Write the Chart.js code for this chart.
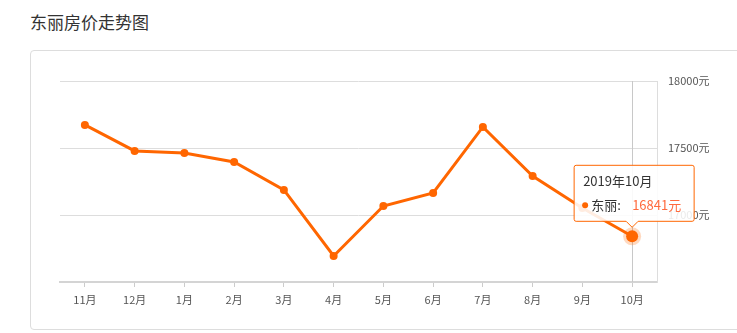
<!DOCTYPE html>
<html>
<head>
<meta charset="utf-8">
<script src="https://cdn.jsdelivr.net/npm/chart.js@4"></script>
<style>
  body { margin: 0; background: #fff; font-family: "Noto Sans CJK SC", sans-serif; }
  #wrap { position: relative; width: 737px; height: 333px; overflow: hidden; }
  #title { position: absolute; left: 30px; top: 9px; font-size: 17px; color: #333; }
  #card { position: absolute; left: 30px; top: 50px; width: 760px; height: 280px;
          border: 1px solid #ddd; border-radius: 4px; box-sizing: border-box; }
  canvas { position: absolute; left: 0; top: 0; }
</style>
</head>
<body>
<div id="wrap">
  <div id="title">东丽房价走势图</div>
  <div id="card"></div>
  <canvas id="price-chart" width="737" height="333"></canvas>
</div>
<script>
// months, Nov 2018 - Oct 2019
const months = ["11月","12月","1月","2月","3月","4月","5月","6月","7月","8月","9月","10月"];
const prices = [17672,17478,17463,17396,17187,16694,17067,17164,17657,17291,17052,16841];
const yTicks = [16500,17000,17500,18000];
const seriesName = "东丽";
const hoverLabel = "2019年10月";
const hoverIndex = 11;

const orange = "#ff6600";

// tooltip + crosshair for the highlighted month
const hoverTip = {
  id: 'hoverTip',
  afterDatasetsDraw(chart) {
    const ctx = chart.ctx;
    const pt = chart.getDatasetMeta(0).data[hoverIndex];
    const area = chart.chartArea;
    ctx.save();
    // halo + big dot
    ctx.fillStyle = 'rgba(255,102,0,0.25)';
    ctx.beginPath(); ctx.arc(pt.x, pt.y, 9, 0, Math.PI * 2); ctx.fill();
    ctx.fillStyle = orange;
    ctx.beginPath(); ctx.arc(pt.x, pt.y, 6, 0, Math.PI * 2); ctx.fill();

    // box
    const w = 120, h = 56;
    const bx = pt.x - 58, by = pt.y - 71;
    ctx.fillStyle = 'rgba(255,255,255,0.88)';
    ctx.strokeStyle = orange;
    ctx.lineWidth = 1;
    ctx.beginPath();
    ctx.moveTo(bx + 2, by);
    ctx.lineTo(bx + w - 2, by);
    ctx.quadraticCurveTo(bx + w, by, bx + w, by + 2);
    ctx.lineTo(bx + w, by + h - 2);
    ctx.quadraticCurveTo(bx + w, by + h, bx + w - 2, by + h);
    ctx.lineTo(pt.x + 6, by + h);
    ctx.lineTo(pt.x, by + h + 6);
    ctx.lineTo(pt.x - 6, by + h);
    ctx.lineTo(bx + 2, by + h);
    ctx.quadraticCurveTo(bx, by + h, bx, by + h - 2);
    ctx.lineTo(bx, by + 2);
    ctx.quadraticCurveTo(bx, by, bx + 2, by);
    ctx.closePath();
    ctx.fill();
    ctx.stroke();

    ctx.font = '13px "Noto Sans CJK SC", sans-serif';
    ctx.textBaseline = 'middle';
    ctx.textAlign = 'left';
    ctx.fillStyle = '#333';
    ctx.fillText(hoverLabel, bx + 9, by + 16);
    ctx.fillStyle = orange;
    ctx.beginPath(); ctx.arc(bx + 11, by + 40, 3, 0, Math.PI * 2); ctx.fill();
    ctx.fillStyle = '#333';
    ctx.fillText(seriesName + ':', bx + 17, by + 40);
    ctx.fillStyle = '#ff6a3d';
    ctx.fillText(prices[hoverIndex] + '元', bx + 58, by + 40);
    ctx.restore();
  },
  beforeDatasetsDraw(chart) {
    const ctx = chart.ctx;
    const pt = chart.getDatasetMeta(0).data[hoverIndex];
    const area = chart.chartArea;
    ctx.save();
    ctx.strokeStyle = '#c8c8c8';
    ctx.lineWidth = 1;
    ctx.beginPath();
    ctx.moveTo(Math.round(pt.x) + 0.5, area.top);
    ctx.lineTo(Math.round(pt.x) + 0.5, area.bottom);
    ctx.stroke();
    ctx.restore();
  }
};

Chart.defaults.font.family = '"Noto Sans CJK SC", sans-serif';

new Chart(document.getElementById("price-chart"), {
  type: 'line',
  data: {
    labels: months,
    datasets: [{
      label: seriesName,
      data: prices,
      borderColor: orange,
      backgroundColor: orange,
      borderWidth: 3,
      pointRadius: 4,
      pointBorderWidth: 0,
      lineTension: 0,
      fill: false
    }]
  },
  options: {
    responsive: false,
    animation: false,
    events: [],
    layout: { padding: { left: 60, top: 81, right: 0, bottom: 0 } },
    plugins: { legend: { display: false }, tooltip: { enabled: false } },
    scales: {
      x: {
        offset: true,
        grid: { drawOnChartArea: false, drawTicks: true, tickLength: 5, tickColor: '#ccc', offset: false },
        border: { color: '#d4d4d4', width: 2 },
        ticks: { color: '#555', font: { size: 11 }, padding: 6, maxRotation: 0 },
        afterFit(scale) { scale.height = 51; }
      },
      y: {
        position: 'right',
        min: yTicks[0],
        max: yTicks[yTicks.length - 1],
        afterBuildTicks(scale) { scale.ticks = yTicks.map(v => ({ value: v })); },
        grid: { color: '#ddd', drawTicks: false },
        border: { color: '#ddd', width: 1 },
        ticks: {
          color: '#555',
          font: { size: 11 },
          padding: 11,
          callback: function(value) { return value === yTicks[0] ? '' : value + '元'; }
        },
        afterFit(scale) { scale.width = 80; }
      }
    }
  },
  plugins: [hoverTip]
});
</script>
</body>
</html>
